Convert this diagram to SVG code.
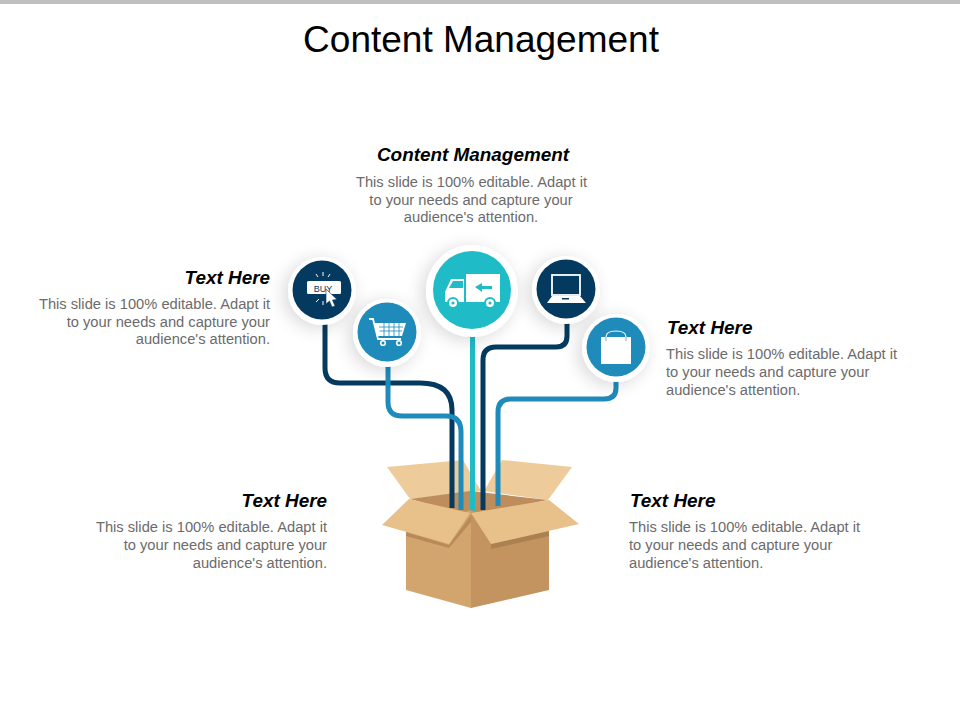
<svg xmlns="http://www.w3.org/2000/svg" width="960" height="720" viewBox="0 0 960 720">
<defs>
<style>
.t{font-family:"Liberation Sans",Arial,sans-serif}
.h{font-size:18.900px;font-weight:bold;font-style:italic;fill:#000}
.b{font-size:14.700px;fill:#6b6b6b}
.ring{fill:#fff;filter:url(#sh)}
.navy{fill:#053a60}.blue{fill:#1f8bbb}.teal{fill:#1fbcc8}
.c{fill:none;stroke-width:5}
.ic{fill:#fff}
</style>
<filter id="sh" x="-60%" y="-60%" width="220%" height="220%"><feGaussianBlur in="SourceAlpha" stdDeviation="9"/><feOffset dx="-4" dy="3"/><feComponentTransfer><feFuncA type="linear" slope="0.16"/></feComponentTransfer><feMerge><feMergeNode/><feMergeNode in="SourceGraphic"/></feMerge></filter>
</defs>
<rect width="960" height="720" fill="#fff"/>
<rect width="960" height="4" fill="#c0c0c0"/>
<text class="t" x="481" y="52" font-size="37" text-anchor="middle" fill="#000">Content Management</text>

<g id="box-back">
<polygon points="387,467 463,460 481,491 410,499" fill="#eecb9b"/>
<polygon points="502,460 572,467 548,500 484,491" fill="#eecb9b"/>
<polygon points="410,499 470,491 548,500 471,516" fill="#bd8d5c"/>
</g>

<g id="connectors" class="c">
<path d="M325 320V368Q325 383 340 383H420Q452 383 452 410V508" stroke="#053a60"/>
<path d="M388 360V402Q388 416 402 416H446Q461 416 461 432V510" stroke="#1f8bbb"/>
<path d="M472.500 336V512" stroke="#1fbcc8"/>
<path d="M483 510V360Q483 347 496 347H556Q567 347 567 336V320" stroke="#053a60"/>
<path d="M498 506V412Q498 399 511 399H604Q616 399 616 388V378" stroke="#1f8bbb"/>
</g>

<g id="box-front">
<polygon points="406,530 471,510 471,608 406,590" fill="#d2a56f"/>
<polygon points="471,510 549,530 549,590 471,608" fill="#c39360"/>
<polygon points="406,532 449,545 471,515 471,522 449,548 406,536" fill="#b98a58"/>
<polygon points="491,544 549,531 549,536 491,549" fill="#ab8152"/>
<polygon points="382,525 409,499 470,513 449,544" fill="#e8c08a"/>
<polygon points="471,513 549,500 579,524 491,544" fill="#e8c08a"/>
</g>

<g id="node-buy">
<circle class="ring" cx="322" cy="291" r="34"/>
<circle class="navy" cx="322" cy="290" r="29.500"/>
<rect class="ic" x="307" y="281" width="34" height="13" rx="1.500"/>
<text class="t" x="323" y="292" font-size="9" text-anchor="middle" fill="#053a60">BUY</text>
<path d="M326 289L326 304L329.500 301L332 307L335 306L332.500 300L337 299.500Z" class="ic" stroke="#053a60" stroke-width="0.600"/>
<path d="M316 274l2 3M323 272v4M330 274l-2 3M316 302l3-3M323 305v-4" stroke="#fff" stroke-width="1" fill="none"/>
</g>

<g id="node-cart">
<circle class="ring" cx="387" cy="333" r="34"/>
<circle class="blue" cx="387" cy="332" r="29.500"/>
<path d="M369 319H373L378 339H401" fill="none" stroke="#fff" stroke-width="1.800"/>
<path d="M374 323H406L402 336H377Z" class="ic"/>
<path d="M379 327H403M379.500 331H402M384 323V336M389 323V336M394 323V336M399 323V336" stroke="#1f8bbb" stroke-width="0.800" fill="none"/>
<circle cx="383" cy="343" r="2.300" fill="none" stroke="#fff" stroke-width="1.600"/>
<circle cx="399" cy="343" r="2.300" fill="none" stroke="#fff" stroke-width="1.600"/>
</g>

<g id="node-truck">
<circle class="ring" cx="472" cy="291" r="46"/>
<circle class="teal" cx="472" cy="290" r="39"/>
<rect class="ic" x="466" y="274" width="34" height="28"/>
<path d="M445 292L451 279H464V302H445Z" class="ic"/>
<path d="M449 288L453 281H463V288Z" fill="#1fbcc8"/>
<circle cx="453" cy="303" r="6" fill="#1fbcc8"/>
<circle cx="490" cy="303" r="6" fill="#1fbcc8"/>
<circle cx="453" cy="303" r="4" class="ic"/><circle cx="453" cy="303" r="1.600" fill="#1fbcc8"/>
<circle cx="490" cy="303" r="4" class="ic"/><circle cx="490" cy="303" r="1.600" fill="#1fbcc8"/>
<path d="M475 287L482 283V286H492V289H482V292Z" fill="#1fbcc8"/>
</g>

<g id="node-laptop">
<circle class="ring" cx="566" cy="290" r="34"/>
<circle class="navy" cx="566" cy="289" r="29.500"/>
<rect x="552" y="275" width="28" height="20" fill="none" stroke="#fff" stroke-width="1.800"/>
<path d="M552 296H580L586 303H547Z" class="ic"/>
<rect x="562" y="298" width="7" height="1.500" fill="#053a60"/>
</g>

<g id="node-bag">
<circle class="ring" cx="616" cy="348" r="34"/>
<circle class="blue" cx="616" cy="347" r="29.500"/>
<rect class="ic" x="601" y="337" width="30" height="27"/>
<path d="M606 341V337Q606 331 616 331Q626 331 626 337V341" fill="none" stroke="#fff" stroke-width="1.200"/>
<path d="M606 337V341M626 337V341" stroke="#9fb6c2" stroke-width="1.200"/>
</g>

<g id="label-top" class="t">
<text class="h" x="473" y="161" text-anchor="middle">Content Management</text>
<text class="b" x="471.500" y="187" text-anchor="middle">This slide is 100% editable. Adapt it</text>
<text class="b" x="471" y="205" text-anchor="middle">to your needs and capture your</text>
<text class="b" x="471" y="222" text-anchor="middle">audience's attention.</text>
</g>
<g id="label-upper-left" class="t" text-anchor="end">
<text class="h" x="270" y="284">Text Here</text>
<text class="b" x="270" y="309">This slide is 100% editable. Adapt it</text>
<text class="b" x="270" y="327">to your needs and capture your</text>
<text class="b" x="270" y="344">audience's attention.</text>
</g>
<g id="label-upper-right" class="t">
<text class="h" x="667" y="334">Text Here</text>
<text class="b" x="666" y="359">This slide is 100% editable. Adapt it</text>
<text class="b" x="666" y="377">to your needs and capture your</text>
<text class="b" x="666" y="395">audience's attention.</text>
</g>
<g id="label-lower-left" class="t" text-anchor="end">
<text class="h" x="327" y="507">Text Here</text>
<text class="b" x="327" y="532">This slide is 100% editable. Adapt it</text>
<text class="b" x="327" y="550">to your needs and capture your</text>
<text class="b" x="327" y="568">audience's attention.</text>
</g>
<g id="label-lower-right" class="t">
<text class="h" x="630" y="507">Text Here</text>
<text class="b" x="629" y="532">This slide is 100% editable. Adapt it</text>
<text class="b" x="629" y="550">to your needs and capture your</text>
<text class="b" x="629" y="568">audience's attention.</text>
</g>
</svg>
